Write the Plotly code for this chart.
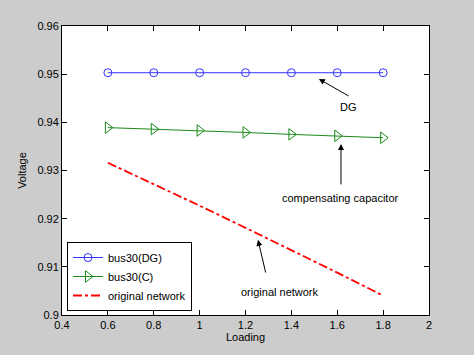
import plotly.graph_objects as go

loading = [0.6, 0.8, 1.0, 1.2, 1.4, 1.6, 1.8]
bus30_dg = [0.9503, 0.9503, 0.9503, 0.9503, 0.9503, 0.9503, 0.9503]
bus30_c = [0.9389, 0.9386, 0.9383, 0.9379, 0.9375, 0.9372, 0.9368]
original = [0.9316, 0.9272, 0.9227, 0.9181, 0.9135, 0.9088, 0.9040]

x_ticks = [0.4, 0.6, 0.8, 1.0, 1.2, 1.4, 1.6, 1.8, 2.0]
x_tick_text = ["0.4", "0.6", "0.8", "1", "1.2", "1.4", "1.6", "1.8", "2"]
y_ticks = [0.90, 0.91, 0.92, 0.93, 0.94, 0.95, 0.96]
y_tick_text = ["0.9", "0.91", "0.92", "0.93", "0.94", "0.95", "0.96"]

FONT = "Liberation Sans, Arial, sans-serif"

fig = go.Figure()
fig.add_trace(go.Scatter(x=loading, y=bus30_dg, name="bus30(DG)", mode="lines+markers",
                         line=dict(color="#3333ff", width=1),
                         marker=dict(symbol="circle-open", size=8, color="#3333ff", line=dict(width=1))))
fig.add_trace(go.Scatter(x=loading, y=bus30_c, name="bus30(C)", mode="lines+markers",
                         line=dict(color="#1a8a1a", width=1),
                         marker=dict(symbol="triangle-right-open", size=10, color="#1a8a1a", line=dict(width=1))))
fig.add_trace(go.Scatter(x=loading, y=original, name="original network", mode="lines",
                         line=dict(color="#ff0000", width=1.8, dash="dashdot")))

ann_font = dict(family=FONT, size=11, color="black")
# arrows
for (hx, hy, tx, ty) in [(1.520, 0.9490, 1.6556, 0.9453),
                         (1.6163, 0.9355, 1.6163, 0.9268),
                         (1.2545, 0.9156, 1.2894, 0.9085)]:
    fig.add_annotation(x=hx, y=hy, ax=tx, ay=ty, xref="x", yref="y", axref="x", ayref="y",
                       text="", showarrow=True, arrowhead=2, arrowsize=1.2, arrowwidth=1,
                       arrowcolor="black")
fig.add_annotation(x=1.651, y=0.9432, text="DG", showarrow=False, font=ann_font)
fig.add_annotation(x=1.6163, y=0.9243, text="compensating capacitor", showarrow=False, font=ann_font)
fig.add_annotation(x=1.3504, y=0.9048, text="original network", showarrow=False, font=ann_font)

axis_common = dict(showline=True, linecolor="black", linewidth=1, mirror="ticks",
                   ticks="inside", ticklen=5, tickcolor="black", showgrid=False, zeroline=False,
                   tickfont=dict(family=FONT, size=11, color="black"))

fig.update_layout(
    width=474, height=355,
    margin=dict(l=62, r=45, t=26, b=40),
    paper_bgcolor="#cccccc", plot_bgcolor="white",
    font=dict(family=FONT, size=11, color="black"),
    xaxis=dict(range=[0.4, 2.0], tickvals=x_ticks, ticktext=x_tick_text,
               title=dict(text="Loading", standoff=3, font=dict(size=11)), **axis_common),
    yaxis=dict(range=[0.90, 0.96], tickvals=y_ticks, ticktext=y_tick_text,
               title=dict(text="Voltage", standoff=8, font=dict(size=11)), **axis_common),
    legend=dict(x=0.0136, y=0.0138, xanchor="left", yanchor="bottom",
                bgcolor="white", bordercolor="black", borderwidth=1,
                font=dict(family=FONT, size=11), tracegroupgap=0, itemwidth=30),
    showlegend=True,
)

fig.write_html("out.html", config={"displayModeBar": False},
               post_script="document.body.style.margin='0';document.body.style.overflow='hidden';")
